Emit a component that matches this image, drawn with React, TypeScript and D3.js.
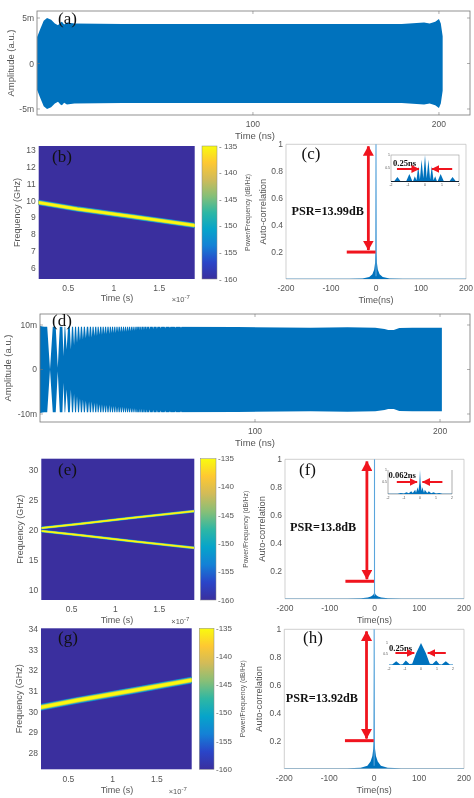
import * as d3 from "d3";

const WIDTH = 474;
const HEIGHT = 798;
const BLUE = "#0072BD";
const RED = "#F0141E";
const TEXT = "#555";
const SANS = "'Liberation Sans', Arial, sans-serif";
const SERIF = "'Liberation Serif', 'Times New Roman', serif";

// parula, low to high
const PARULA = ["#3A2F9E", "#2A45C8", "#1481D6", "#06A4CA", "#2EB7A4", "#87BF77", "#D1BB59", "#FEC832", "#F9FB0E"];
const POWER_TICKS = [-135, -140, -145, -150, -155, -160];
const POWER_LAYERS = [-155, -150, -145, -140, -135];

// waveform (a), envelope in mV against ns
const waveATime = [-16, -14.5, -12.5, -10.7, -8.5, -6.5, -4.8, -3.5, -2.7, -1.5, 0, 4, 30, 100, 180, 192, 195, 198, 200, 201, 202];
const waveAEnv = [2.9, 3.7, 4.7, 5, 4.8, 4.4, 4.2, 4.5, 4.6, 4.3, 4.5, 4.4, 4.35, 4.35, 4.35, 4.5, 4.4, 4.6, 4.9, 4.4, 3];

// waveform (d), envelope plus the notches of the chirp start
const waveDTime = [-16.2, -14, -8, 0, 40, 90, 130, 150, 165, 170, 172, 175, 178, 185, 201];
const waveDEnv = [9.8, 9.6, 9.6, 9.6, 9.6, 9.55, 9.4, 9.5, 9.4, 9.1, 8.9, 8.9, 9.3, 9.4, 9.4];
const chirpNulls = [-10.8, -6.6, -3.5, -1.8, 0.5, 2.2, 3.8, 5.4, 7, 8.6, 10.3, 11.8, 13.2, 14.6, 15.9, 17.3, 18.6, 19.9, 21.2, 22.4, 23.6, 24.8, 26, 27.2, 28.4, 29.5, 30.6, 31.7, 32.8, 34, 35.1, 36.2, 37.4, 38.5, 40, 41.5, 43, 45, 47, 49, 51.5, 54, 57, 60];
const chirpDepth = [0, 0.4, 3, 4.5, 4.5, 5.5, 6, 6.5, 6.8, 7, 7.2, 7.2, 7.5, 7.5, 7.8, 7.8, 8, 8, 8, 8.2, 8.2, 8.2, 8.4, 8.4, 8.4, 8.5, 8.5, 8.6, 8.6, 8.7, 8.7, 8.8, 8.8, 8.8, 8.9, 9, 9, 9.1, 9.1, 9.2, 9.2, 9.3, 9.3, 9.3];

// spectrogram ridges, time in 1e-7 s and frequency in GHz
const ridgeBTime = [0.1, 0.6, 1.2, 2];
const ridgeBFreq = [9.95, 9.5, 9.05, 8.44];
const ridgeEUpTime = [0.153, 0.6, 1.2, 1.9];
const ridgeEUpFreq = [20.3, 21, 22, 23.1];
const ridgeELowTime = [0.153, 0.6, 1.2, 1.9];
const ridgeELowFreq = [19.8, 19.1, 18.1, 17];
const ridgeGTime = [0.1, 0.6, 1.2, 2];
const ridgeGFreq = [30.14, 30.55, 31, 31.62];

// autocorrelation skirts, value against ns
const corrTime = [-200, -60, -30, -15, -8, -4, -2, -1, 0, 1, 2, 4, 8, 15, 30, 60, 200];
const corrC = [0.001, 0.002, 0.004, 0.014, 0.035, 0.07, 0.12, 0.2, 1, 0.2, 0.12, 0.07, 0.035, 0.014, 0.004, 0.002, 0.001];
const corrF = [0.001, 0.002, 0.004, 0.008, 0.016, 0.025, 0.032, 0.04, 1, 0.04, 0.032, 0.025, 0.016, 0.008, 0.004, 0.002, 0.001];
const corrH = [0.001, 0.002, 0.006, 0.02, 0.05, 0.09, 0.14, 0.2, 1, 0.2, 0.14, 0.09, 0.05, 0.02, 0.006, 0.002, 0.001];

// zoomed insets, value against ns
const insetCTime = [-2, -1.8, -1.62, -1.45, -1.1, -0.92, -0.75, -0.7, -0.6, -0.5, -0.4, -0.3, -0.2, -0.1, 0, 0.1, 0.2, 0.3, 0.4, 0.5, 0.6, 0.7, 0.75, 0.92, 1.1, 1.45, 1.62, 1.8, 2];
const insetCVal = [0.02, 0.02, 0.17, 0.02, 0.02, 0.28, 0.02, 0.02, 0.2, 0.05, 0.58, 0.08, 0.82, 0.12, 1, 0.12, 0.82, 0.08, 0.58, 0.05, 0.2, 0.02, 0.02, 0.28, 0.02, 0.02, 0.17, 0.02, 0.02];
const insetFTime = [-2, -1.4, -1.2, -1, -0.85, -0.7, -0.55, -0.45, -0.3, -0.25, -0.15, -0.1, -0.04, 0, 0.04, 0.1, 0.15, 0.25, 0.3, 0.45, 0.55, 0.7, 0.85, 1, 1.2, 1.4, 2];
const insetFVal = [0.01, 0.01, 0.04, 0.02, 0.07, 0.03, 0.11, 0.04, 0.18, 0.05, 0.28, 0.12, 0.45, 1, 0.45, 0.12, 0.28, 0.05, 0.18, 0.04, 0.11, 0.03, 0.07, 0.02, 0.04, 0.01, 0.01];
const insetHTime = [-2, -1.8, -1.55, -1.3, -1.15, -0.95, -0.72, -0.55, -0.3, 0, 0.3, 0.55, 0.72, 0.95, 1.15, 1.3, 1.55, 1.8, 2];
const insetHVal = [0.02, 0.02, 0.17, 0.02, 0.03, 0.2, 0.04, 0.06, 0.55, 1, 0.55, 0.06, 0.04, 0.2, 0.03, 0.02, 0.17, 0.02, 0.02];

const CORR_TICKS = [-200, -100, 0, 100, 200];
const CORR_Y_TICKS = [0.2, 0.4, 0.6, 0.8, 1];
const INSET_TICKS = [-2, -1, 0, 1, 2];
const INSET_Y_TICKS = [0.5, 1];
const TIME_S_TICKS = [0.5, 1, 1.5];

const parula = d3
  .scaleLinear<string>()
  .domain(d3.range(PARULA.length).map((i) => -160 + (i * 25) / (PARULA.length - 1)))
  .range(PARULA);

const Label = ({ x, y, children, size = 8.5, anchor = "middle", rotate = false, fill = TEXT, family = SANS, weight = "normal" }: any) => (
  <text
    x={rotate ? 0 : x}
    y={rotate ? 0 : y}
    transform={rotate ? `translate(${x},${y}) rotate(-90)` : undefined}
    fontFamily={family}
    fontSize={size}
    fontWeight={weight}
    textAnchor={anchor}
    dominantBaseline={family === SANS ? "central" : undefined}
    fill={fill}
  >
    {children}
  </text>
);

const Waveform = ({ box, x, y, time, env, yTicks, ylabel, ylabelX, tag, notches }: any) => {
  const [x0, x1, y0, y1] = box;
  const area = d3
    .area<number>()
    .x((_, i) => x(time[i]))
    .y0((d) => y(-d))
    .y1((d) => y(d));
  return (
    <g>
      <path d={area(env) ?? ""} fill={BLUE} />
      {notches}
      <rect x={x0} y={y0} width={x1 - x0} height={y1 - y0} fill="none" stroke="#777" strokeWidth={0.8} />
      {yTicks.map((t: any) => (
        <g key={t.v}>
          <line x1={x0} x2={x0 + 3} y1={y(t.v)} y2={y(t.v)} stroke="#777" strokeWidth={0.6} />
          <line x1={x1} x2={x1 - 3} y1={y(t.v)} y2={y(t.v)} stroke="#777" strokeWidth={0.6} />
          <Label x={x0 - 3} y={y(t.v)} anchor="end">{t.label}</Label>
        </g>
      ))}
      {[100, 200].map((v) => (
        <g key={v}>
          <line x1={x(v)} x2={x(v)} y1={y1} y2={y1 - 3} stroke="#777" strokeWidth={0.6} />
          <line x1={x(v)} x2={x(v)} y1={y0} y2={y0 + 3} stroke="#777" strokeWidth={0.6} />
          <Label x={x(v)} y={y1 + 9}>{v}</Label>
        </g>
      ))}
      <Label x={255} y={y1 + 20.5} size={9.5}>Time (ns)</Label>
      <Label x={ylabelX} y={(y0 + y1) / 2} rotate size={9.5}>{ylabel}</Label>
      <Label x={tag[1]} y={tag[2]} size={17} family={SERIF} fill="#111" anchor="start">{tag[0]}</Label>
    </g>
  );
};

const Spectrogram = ({ id, box, domain, freqDomain, yTicks, ridges, bandWidth, bar, ylabelX, xLabelY, tickY, tag, spaced }: any) => {
  const [x0, x1, y0, y1] = box;
  const x = d3.scaleLinear().domain(domain).range([x0, x1]);
  const y = d3.scaleLinear().domain(freqDomain).range([y1, y0]);
  const powerY = d3.scaleLinear().domain([-160, -135]).range([y1, y0]);
  const gradStops = d3.range(0, 1.001, 1 / (PARULA.length - 1));
  return (
    <g>
      <defs>
        <clipPath id={`clip-${id}`}>
          <rect x={x0} y={y0} width={x1 - x0} height={y1 - y0} />
        </clipPath>
        <linearGradient id={`bar-${id}`} x1="0" y1="1" x2="0" y2="0">
          {gradStops.map((s, i) => (
            <stop key={i} offset={s} stopColor={PARULA[i]} />
          ))}
        </linearGradient>
      </defs>
      <rect x={x0} y={y0} width={x1 - x0} height={y1 - y0} fill={PARULA[0]} />
      <g clipPath={`url(#clip-${id})`}>
        {ridges.map((r: any, k: number) => {
          const line = d3
            .line<number>()
            .x((d) => x(d))
            .y((_, i) => y(r.freq[i]));
          return POWER_LAYERS.map((p, i) => (
            <path
              key={`${k}-${p}`}
              d={line(r.time) ?? ""}
              fill="none"
              stroke={parula(p)}
              strokeWidth={bandWidth * (1 - i * 0.14)}
            />
          ));
        })}
      </g>
      {yTicks.map((v: number) => (
        <Label key={v} x={x0 - 3} y={y(v)} anchor="end">{v}</Label>
      ))}
      {TIME_S_TICKS.map((v) => (
        <Label key={v} x={x(v)} y={tickY}>{v}</Label>
      ))}
      <Label x={117} y={xLabelY} size={9}>Time (s)</Label>
      <text x={x1 - 23} y={xLabelY + 4} fontFamily={SANS} fontSize={7.5} fill={TEXT}>
        ×10<tspan dy={-3} fontSize={6}>-7</tspan>
      </text>
      <rect x={bar[0]} y={y0} width={bar[1] - bar[0]} height={y1 - y0} fill={`url(#bar-${id})`} stroke="#888" strokeWidth={0.5} />
      {POWER_TICKS.map((v) => (
        <g key={v}>
          <Label x={bar[1] + 2} y={powerY(v)} anchor="start" size={8}>{spaced ? `- ${Math.abs(v)}` : v}</Label>
        </g>
      ))}
      <Label x={bar[2]} y={(y0 + y1) / 2} rotate size={6.7}>Power/Frequency (dB/Hz)</Label>
      <Label x={ylabelX} y={(y0 + y1) / 2} rotate size={9}>Frequency (GHz)</Label>
      <Label x={tag[1]} y={tag[2]} size={17} family={SERIF} fill="#111" anchor="start">{tag[0]}</Label>
    </g>
  );
};

const Correlation = ({ box, values, floor, psr, psrX, psrY, ylabelX, xLabelY, tickY, tag, inset }: any) => {
  const [x0, x1, y0, y1] = box;
  const x = d3.scaleLinear().domain([-200, 200]).range([x0, x1]);
  const y = d3.scaleLinear().domain([0, 1]).range([y1, y0]);
  const area = d3
    .area<number>()
    .x((_, i) => x(corrTime[i]))
    .y0(y(0))
    .y1((d) => y(d));
  // inset scales
  const ix = d3.scaleLinear().domain([-2, 2]).range([inset.box[0], inset.box[1]]);
  const iy = d3.scaleLinear().domain([0, 1]).range([inset.box[3], inset.box[2]]);
  const iarea = d3
    .area<number>()
    .x((_, i) => ix(inset.time[i]))
    .y0(iy(0))
    .y1((d) => iy(d));
  return (
    <g>
      <path d={`M${x0},${y1}V${y0}H${x1}V${y1}Z`} fill="none" stroke="#bbb" strokeWidth={0.7} />
      <path d={area(values) ?? ""} fill={BLUE} />
      <line x1={x(0)} x2={x(0)} y1={y(floor)} y2={y(1)} stroke="#5AA5DC" strokeWidth={1.1} />
      {CORR_TICKS.map((v) => (
        <Label key={v} x={x(v)} y={tickY}>{v}</Label>
      ))}
      {CORR_Y_TICKS.map((v) => (
        <Label key={v} x={x0 - 3} y={y(v)} anchor="end">{v}</Label>
      ))}
      <Label x={x(0)} y={xLabelY} size={9}>Time(ns)</Label>
      <Label x={ylabelX} y={(y0 + y1) / 2} rotate size={9.3}>Auto-correlation</Label>

      {/* inset */}
      {inset.frame === "box" && (
        <rect x={inset.box[0]} y={inset.box[2]} width={inset.box[1] - inset.box[0]} height={inset.box[3] - inset.box[2]} fill="white" stroke="#999" strokeWidth={0.6} />
      )}
      {inset.frame === "sides" && (
        <path d={`M${inset.box[0]},${inset.box[2]}V${inset.box[3]}H${inset.box[1]}V${inset.box[2]}`} fill="none" stroke="#777" strokeWidth={0.6} />
      )}
      <path d={iarea(inset.val) ?? ""} fill={BLUE} />
      {inset.frame === "box" && <line x1={inset.box[0]} x2={inset.box[1]} y1={iy(0)} y2={iy(0)} stroke="#123" strokeWidth={1} />}
      {INSET_TICKS.map((v) => (
        <Label key={v} x={ix(v)} y={inset.box[3] + 3.5} size={3.5}>{v}</Label>
      ))}
      {INSET_Y_TICKS.map((v) => (
        <Label key={v} x={inset.box[0] - 1} y={iy(v)} size={3.5} anchor="end">{v}</Label>
      ))}
      <text x={inset.textX} y={inset.textY} fontFamily={SERIF} fontWeight="bold" fontSize={8.6} fill="#111">{inset.label}</text>
      <line x1={ix(inset.arrowL[0])} x2={ix(inset.arrowL[1])} y1={inset.arrowY} y2={inset.arrowY} stroke={RED} strokeWidth={2} markerEnd="url(#head-small)" />
      <line x1={ix(inset.arrowR[0])} x2={ix(inset.arrowR[1])} y1={inset.arrowY} y2={inset.arrowY} stroke={RED} strokeWidth={2} markerEnd="url(#head-small)" />

      {/* PSR marks */}
      <line x1={x(-17)} x2={x(-17)} y1={y(0.985)} y2={y(psr.level + 0.015)} stroke={RED} strokeWidth={2.8} markerStart="url(#head-big)" markerEnd="url(#head-big)" />
      <line x1={x(-65)} x2={x(-1)} y1={y(psr.level)} y2={y(psr.level)} stroke={RED} strokeWidth={3} />
      <text x={psrX} y={psrY} fontFamily={SERIF} fontWeight="bold" fontSize={psr.size} fill="#111">{psr.label}</text>
      <Label x={tag[1]} y={tag[2]} size={17} family={SERIF} fill="#111" anchor="start">{tag[0]}</Label>
    </g>
  );
};

export default function App() {
  const xA = d3.scaleLinear().domain([-16.1, 216.7]).range([37, 470]);
  const yA = d3.scaleLinear().domain([-5.66, 5.77]).range([115, 11]);
  const xD = d3.scaleLinear().domain([-16.2, 216.2]).range([40, 470]);
  const yD = d3.scaleLinear().domain([-11.8, 12.47]).range([422, 314]);

  // white notches cut into the chirp start of (d)
  const notches = chirpNulls.map((t, i) => {
    const gap = (chirpNulls[i + 1] ?? t + 3) - t;
    const half = Math.max(gap * 0.38, 0.45);
    const d = chirpDepth[i];
    const top = 10.2;
    const upper = `M${xD(t - half)},${yD(top)}L${xD(t)},${yD(d)}L${xD(t + half)},${yD(top)}Z`;
    const lower = `M${xD(t - half)},${yD(-top)}L${xD(t)},${yD(-d)}L${xD(t + half)},${yD(-top)}Z`;
    return <path key={t} d={upper + lower} fill="white" opacity={i > 30 ? 0.6 : 1} />;
  });

  return (
    <svg
      width={WIDTH}
      height={HEIGHT}
      viewBox={`0 0 ${WIDTH} ${HEIGHT}`}
      style={{ position: "absolute", left: 0, top: 0, background: "white", filter: "blur(0.35px)" }}
    >
      <defs>
        <marker id="head-big" viewBox="0 0 10 10" refX={9.5} refY={5} markerUnits="userSpaceOnUse" markerWidth={10} markerHeight={11} orient="auto-start-reverse" preserveAspectRatio="none">
          <path d="M0,0L10,5L0,10Z" fill={RED} />
        </marker>
        <marker id="head-small" viewBox="0 0 10 10" refX={9.5} refY={5} markerUnits="userSpaceOnUse" markerWidth={8} markerHeight={8} orient="auto">
          <path d="M0,0L10,5L0,10Z" fill={RED} />
        </marker>
      </defs>

      <Waveform
        box={[37, 470, 11, 115]}
        x={xA}
        y={yA}
        time={waveATime}
        env={waveAEnv}
        yTicks={[{ v: 5, label: "5m" }, { v: 0, label: "0" }, { v: -5, label: "-5m" }]}
        ylabel="Amplitude (a.u.)"
        ylabelX={10}
        tag={["(a)", 58, 24]}
      />
      <Spectrogram
        id="b"
        box={[38.7, 194.7, 146, 279]}
        domain={[0.175, 1.89]}
        freqDomain={[5.34, 13.24]}
        yTicks={[6, 7, 8, 9, 10, 11, 12, 13]}
        ridges={[{ time: ridgeBTime, freq: ridgeBFreq }]}
        bandWidth={5.5}
        bar={[202, 217, 247]}
        ylabelX={16.5}
        tickY={288}
        xLabelY={298}
        spaced
        tag={["(b)", 52, 162]}
      />
      <Correlation
        box={[286, 466, 144.3, 279]}
        values={corrC}
        floor={0.02}
        psr={{ level: 0.2, label: "PSR=13.99dB", size: 12.2 }}
        psrX={291.5}
        psrY={215}
        ylabelX={262.5}
        tickY={288}
        xLabelY={300}
        tag={["(c)", 301.5, 159]}
        inset={{
          box: [391, 459, 155, 181.5],
          frame: "box",
          time: insetCTime,
          val: insetCVal,
          label: "0.25ns",
          textX: 393,
          textY: 166,
          arrowY: 169,
          arrowL: [-1.65, -0.35],
          arrowR: [1.6, 0.4],
        }}
      />

      <Waveform
        box={[40, 470, 314, 422]}
        x={xD}
        y={yD}
        time={waveDTime}
        env={waveDEnv}
        yTicks={[{ v: 10, label: "10m" }, { v: 0, label: "0" }, { v: -10, label: "-10m" }]}
        ylabel="Amplitude (a.u.)"
        ylabelX={7}
        tag={["(d)", 52, 326]}
        notches={notches}
      />
      <Spectrogram
        id="e"
        box={[41.3, 194.3, 458.7, 600]}
        domain={[0.153, 1.9]}
        freqDomain={[8.35, 31.8]}
        yTicks={[10, 15, 20, 25, 30]}
        ridges={[
          { time: ridgeEUpTime, freq: ridgeEUpFreq },
          { time: ridgeELowTime, freq: ridgeELowFreq },
        ]}
        bandWidth={3}
        bar={[200.5, 216, 245]}
        ylabelX={20}
        tickY={609}
        xLabelY={620}
        tag={["(e)", 58, 475]}
      />
      <Correlation
        box={[285, 464, 459.3, 598.7]}
        values={corrF}
        floor={0.02}
        psr={{ level: 0.125, label: "PSR=13.8dB", size: 12.2 }}
        psrX={290}
        psrY={531}
        ylabelX={261.5}
        tickY={608}
        xLabelY={620}
        tag={["(f)", 299, 475]}
        inset={{
          box: [388, 452, 470, 494],
          frame: "sides",
          time: insetFTime,
          val: insetFVal,
          label: "0.062ns",
          textX: 388.5,
          textY: 477.5,
          arrowY: 482,
          arrowL: [-1.45, -0.18],
          arrowR: [1.4, 0.15],
        }}
      />

      <Spectrogram
        id="g"
        box={[41, 191.7, 628.3, 769.3]}
        domain={[0.19, 1.893]}
        freqDomain={[27.2, 34.05]}
        yTicks={[28, 29, 30, 31, 32, 33, 34]}
        ridges={[{ time: ridgeGTime, freq: ridgeGFreq }]}
        bandWidth={7}
        bar={[199.3, 214, 242]}
        ylabelX={18.5}
        tickY={779}
        xLabelY={790}
        tag={["(g)", 58, 642.5]}
      />
      <Correlation
        box={[284.3, 464, 629.3, 768.5]}
        values={corrH}
        floor={0.02}
        psr={{ level: 0.2, label: "PSR=13.92dB", size: 12.2 }}
        psrX={285.7}
        psrY={701.7}
        ylabelX={259}
        tickY={778}
        xLabelY={790}
        tag={["(h)", 303, 643]}
        inset={{
          box: [389, 453, 643, 665],
          frame: "none",
          time: insetHTime,
          val: insetHVal,
          label: "0.25ns",
          textX: 389,
          textY: 651,
          arrowY: 653,
          arrowL: [-1.6, -0.42],
          arrowR: [1.55, 0.42],
        }}
      />
    </svg>
  );
}
